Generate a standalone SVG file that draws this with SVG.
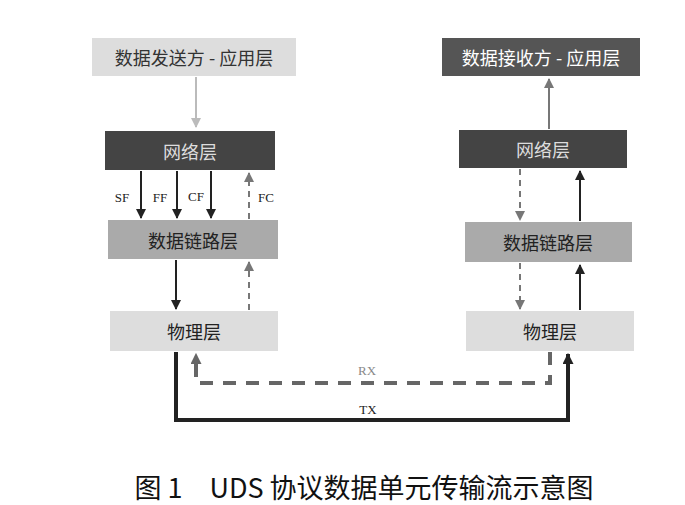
<svg xmlns="http://www.w3.org/2000/svg" width="685" height="505" viewBox="0 0 685 505">
<style>
.t{font-family:"Noto Sans CJK SC","Noto Sans",sans-serif;font-size:18px;text-anchor:middle;dominant-baseline:central}
.l{font-family:"Liberation Serif",serif;font-size:13px;text-anchor:middle;dominant-baseline:central;fill:#222}
.k{stroke:#222;stroke-width:2;fill:none}
.d{stroke:#777;stroke-width:2;fill:none;stroke-dasharray:6,5}
</style>
<defs>
<marker id="ak" viewBox="0 0 10 10" refX="9" refY="5" markerWidth="5" markerHeight="5" orient="auto"><path d="M0,0L10,5L0,10z" fill="#222"/></marker>
<marker id="ag" viewBox="0 0 10 10" refX="9" refY="5" markerWidth="5" markerHeight="5" orient="auto"><path d="M0,0L10,5L0,10z" fill="#777"/></marker>
<marker id="al" viewBox="0 0 10 10" refX="9" refY="5" markerWidth="5" markerHeight="5" orient="auto"><path d="M0,0L10,5L0,10z" fill="#bbb"/></marker>
<marker id="akb" viewBox="0 0 10 10" refX="9" refY="5" markerUnits="userSpaceOnUse" markerWidth="11" markerHeight="11" orient="auto"><path d="M0,0L10,5L0,10z" fill="#222"/></marker>
<marker id="adb" viewBox="0 0 10 10" refX="9" refY="5" markerUnits="userSpaceOnUse" markerWidth="11" markerHeight="11" orient="auto"><path d="M0,0L10,5L0,10z" fill="#666"/></marker>
</defs>
<rect width="685" height="505" fill="#fff"/>
<g id="sendApp"><rect x="92" y="38" width="204" height="38" fill="#ddd"/><text class="t" x="194" y="57" fill="#333">数据发送方 - 应用层</text></g>
<g id="sendNet"><rect x="105" y="131" width="170" height="39" fill="#444"/><text class="t" x="190" y="151" fill="#ddd">网络层</text></g>
<g id="sendDL"><rect x="108" y="220" width="170" height="39" fill="#aaa"/><text class="t" x="193" y="240" fill="#222">数据链路层</text></g>
<g id="sendPhy"><rect x="110" y="311" width="168" height="40" fill="#ddd"/><text class="t" x="194" y="331" fill="#222">物理层</text></g>
<g id="recvApp"><rect x="442" y="38" width="198" height="38" fill="#555"/><text class="t" x="541" y="57" fill="#fff">数据接收方 - 应用层</text></g>
<g id="recvNet"><rect x="459" y="130" width="168" height="38" fill="#444"/><text class="t" x="543" y="149" fill="#ddd">网络层</text></g>
<g id="recvDL"><rect x="465" y="222" width="167" height="40" fill="#aaa"/><text class="t" x="548" y="242" fill="#222">数据链路层</text></g>
<g id="recvPhy"><rect x="466" y="311" width="168" height="40" fill="#ddd"/><text class="t" x="550" y="331" fill="#222">物理层</text></g>
<g id="connectors">
<path d="M196,77V127" stroke="#bbb" stroke-width="2" marker-end="url(#al)"/>
<path class="k" d="M141,171V218" marker-end="url(#ak)"/>
<path class="k" d="M177,171V218" marker-end="url(#ak)"/>
<path class="k" d="M211,171V218" marker-end="url(#ak)"/>
<path class="d" d="M249,219V173" marker-end="url(#ag)"/>
<path class="k" d="M176,260V309" marker-end="url(#ak)"/>
<path class="d" d="M249,310V262" marker-end="url(#ag)"/>
<path d="M549,129V79" stroke="#777" stroke-width="2" marker-end="url(#ag)"/>
<path class="d" d="M520,169V220" marker-end="url(#ag)"/>
<path class="k" d="M580,221V171" marker-end="url(#ak)"/>
<path class="d" d="M520,263V309" marker-end="url(#ag)"/>
<path class="k" d="M580,310V265" marker-end="url(#ak)"/>
<path d="M550,352V383H196V354" fill="none" stroke="#666" stroke-width="4" stroke-dasharray="13,10" marker-end="url(#adb)"/>
<path d="M176,352V420H568V354" fill="none" stroke="#222" stroke-width="4" marker-end="url(#akb)"/>
<text class="l" x="122" y="197">SF</text>
<text class="l" x="160" y="197">FF</text>
<text class="l" x="196" y="196">CF</text>
<text class="l" x="266" y="197">FC</text>
<text class="l" x="367" y="370" style="fill:#888">RX</text>
<text class="l" x="368" y="409">TX</text>
</g>
<text x="364" y="486" style="font-family:'Noto Sans CJK SC','Noto Sans',sans-serif;font-size:27px;text-anchor:middle;dominant-baseline:central" fill="#111">图 1　UDS 协议数据单元传输流示意图</text>
</svg>
